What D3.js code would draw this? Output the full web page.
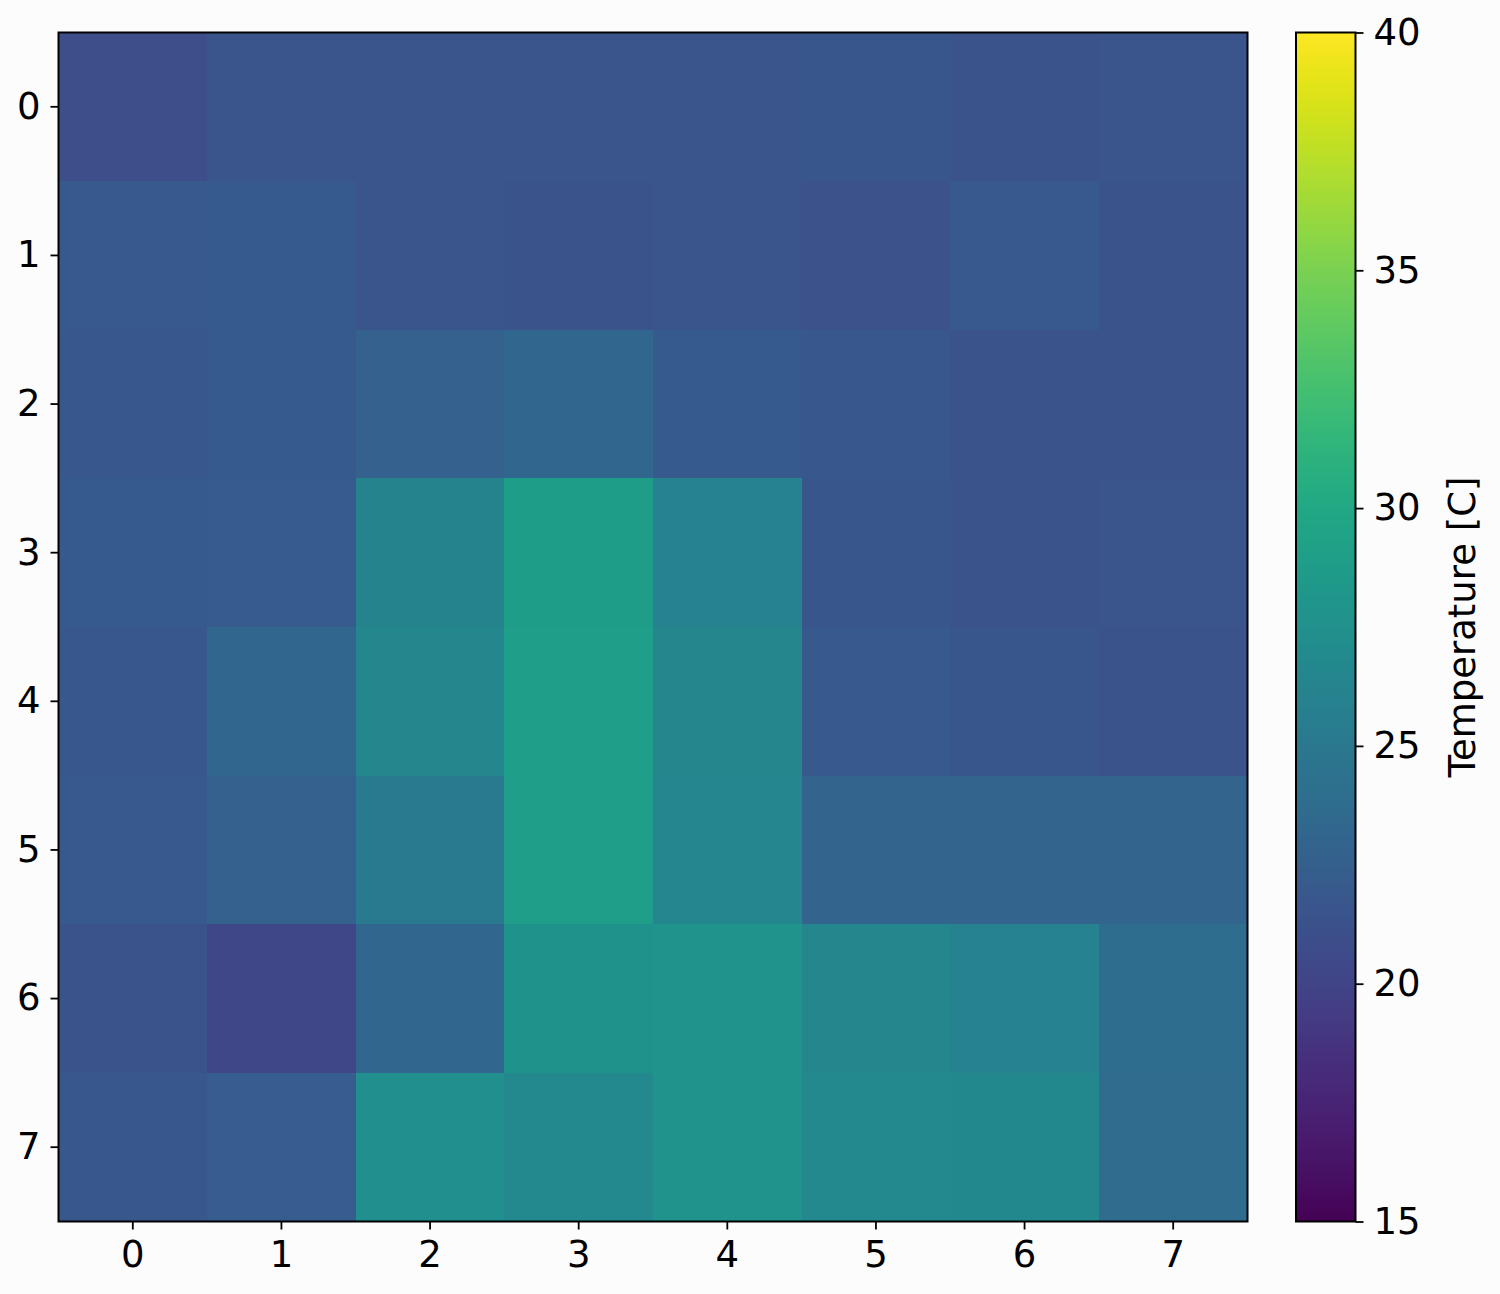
<!DOCTYPE html>
<html><head><meta charset="utf-8">
<script src="https://cdn.jsdelivr.net/npm/d3@7"></script>
<style>body{margin:0;background:#fcfcfc;} svg{display:block;} text{font-family:"DejaVu Sans",sans-serif;}</style>
</head><body>
<svg id="chart" width="1500" height="1294"></svg>
<script>
const rows = [0,1,2,3,4,5,6,7];
const cols = [0,1,2,3,4,5,6,7];
const values = [
  [20.9, 21.6, 21.6, 21.5, 21.6, 21.7, 21.4, 21.6],
  [21.9, 22.0, 21.6, 21.4, 21.5, 21.3, 21.9, 21.4],
  [21.8, 22.0, 22.7, 23.3, 22.0, 21.8, 21.4, 21.4],
  [22.0, 22.2, 26.2, 28.8, 26.0, 21.7, 21.4, 21.5],
  [21.8, 23.2, 26.6, 28.9, 26.6, 21.9, 21.7, 21.4],
  [21.9, 22.7, 25.2, 28.9, 26.5, 23.0, 23.0, 23.0],
  [21.4, 20.3, 23.2, 27.7, 27.8, 26.6, 26.1, 23.8],
  [21.8, 22.3, 27.4, 26.8, 27.8, 26.8, 26.7, 23.7]
];
const colorDomain = [15, 40];
const cbTicks = [15, 20, 25, 30, 35, 40];
const cbLabel = "Temperature [C]";

const svg = d3.select("#chart");
const L = 58.5, T = 32.5, R = 1247.5, B = 1221.5;
const x = d3.scaleBand().domain(cols).range([L, R]);
const y = d3.scaleBand().domain(rows).range([T, B]);
const color = d3.scaleSequential(d3.interpolateViridis).domain(colorDomain);

const cells = [];
values.forEach((r, i) => r.forEach((v, j) => cells.push({i, j, v})));
svg.append("g").selectAll("rect").data(cells).join("rect")
  .attr("x", d => x(d.j)).attr("y", d => y(d.i))
  .attr("width", x.bandwidth() + 0.5).attr("height", y.bandwidth() + 0.5)
  .attr("fill", d => color(d.v)).attr("shape-rendering", "crispEdges");

svg.append("rect").attr("x", L).attr("y", T).attr("width", R - L).attr("height", B - T)
  .attr("fill", "none").attr("stroke", "#000").attr("stroke-width", 2);

const fs = 37;
const styleAxis = a => {
  a.attr("font-size", fs).attr("font-family", "DejaVu Sans");
  a.select(".domain").remove();
  a.selectAll(".tick line").attr("stroke", "#000").attr("stroke-width", 1.8);
  a.selectAll(".tick text").attr("font-size", fs).attr("fill", "#000");
};
const xAxis = svg.append("g").attr("transform", `translate(0,${B})`)
  .call(d3.axisBottom(x).tickSize(8).tickPadding(11));
const yAxis = svg.append("g").attr("transform", `translate(${L},0)`)
  .call(d3.axisLeft(y).tickSize(8).tickPadding(10));
styleAxis(xAxis); styleAxis(yAxis);

// colorbar
const cbL = 1296, cbR = 1355.5;
const cy = d3.scaleLinear().domain(colorDomain).range([B, T]);
const defs = svg.append("defs");
const grad = defs.append("linearGradient").attr("id", "cbg").attr("x1", 0).attr("y1", 1).attr("x2", 0).attr("y2", 0);
d3.range(0, 1.0001, 0.02).forEach(t => grad.append("stop").attr("offset", t).attr("stop-color", d3.interpolateViridis(t)));
svg.append("rect").attr("x", cbL).attr("y", T).attr("width", cbR - cbL).attr("height", B - T)
  .attr("fill", "url(#cbg)").attr("stroke", "#000").attr("stroke-width", 2);
const cbAxis = svg.append("g").attr("transform", `translate(${cbR},0)`)
  .call(d3.axisRight(cy).tickValues(cbTicks).tickSize(8).tickPadding(10));
styleAxis(cbAxis);
svg.append("text").attr("transform", `translate(1475,${(T + B) / 2}) rotate(-90)`)
  .attr("text-anchor", "middle").attr("font-size", fs).attr("font-family", "DejaVu Sans")
  .attr("fill", "#000").text(cbLabel);
</script>
</body></html>
